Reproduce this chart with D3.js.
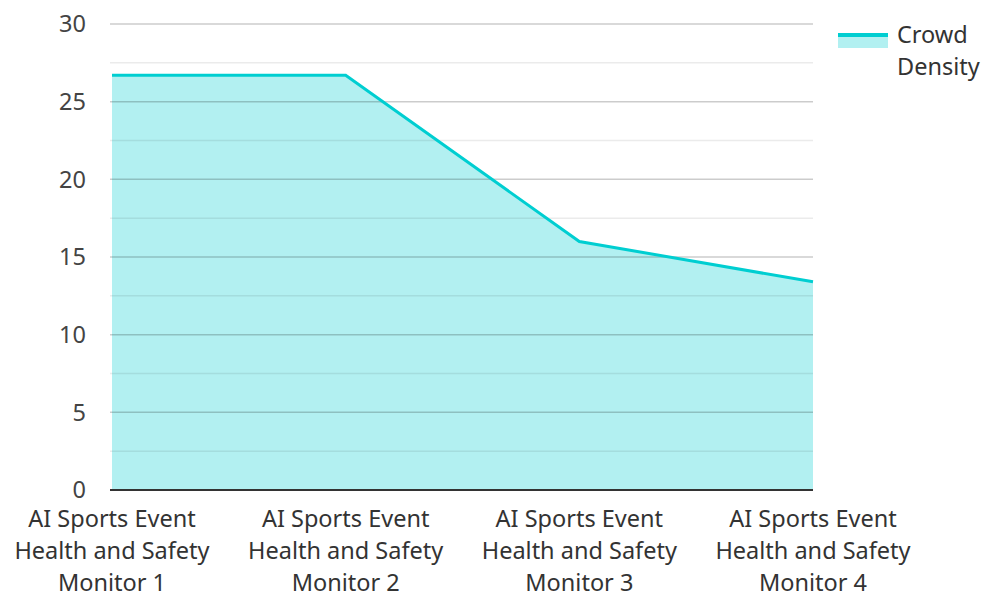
<!DOCTYPE html>
<html>
<head>
<meta charset="utf-8">
<script src="https://cdn.jsdelivr.net/npm/d3@7"></script>
<style>
  body { margin: 0; background: #fff; }
  svg { display: block; font-family: "Noto Sans", sans-serif; }
</style>
</head>
<body>
<svg id="chart" width="987" height="594"></svg>
<script>
// chart data
const categories = [
  "AI Sports Event Health and Safety Monitor 1",
  "AI Sports Event Health and Safety Monitor 2",
  "AI Sports Event Health and Safety Monitor 3",
  "AI Sports Event Health and Safety Monitor 4"
];
const labelLines = [
  ["AI Sports Event", "Health and Safety", "Monitor 1"],
  ["AI Sports Event", "Health and Safety", "Monitor 2"],
  ["AI Sports Event", "Health and Safety", "Monitor 3"],
  ["AI Sports Event", "Health and Safety", "Monitor 4"]
];
const density = [26.7, 26.7, 16.0, 13.4];
const seriesName = ["Crowd", "Density"];
const yTicks = [0, 5, 10, 15, 20, 25, 30];
const yMinorTicks = [2.5, 7.5, 12.5, 17.5, 22.5, 27.5];

const svg = d3.select("#chart");
const margin = { top: 24, right: 174, bottom: 104, left: 110 };
const width = 987, height = 594;
const color = "#00CED1";
const fontSize = 23.5;

const x = d3.scalePoint()
  .domain(categories)
  .range([margin.left + 2, width - margin.right]);

const y = d3.scaleLinear()
  .domain([0, 30])
  .range([height - margin.bottom, margin.top]);

const data = categories.map((c, i) => ({ cat: c, value: density[i] }));

// area first, grid lines show through
svg.append("path")
  .datum(data)
  .attr("fill", color)
  .attr("fill-opacity", 0.3)
  .attr("d", d3.area()
    .x(d => x(d.cat))
    .y0(y(0))
    .y1(d => y(d.value)));

// minor grid
svg.append("g")
  .selectAll("line")
  .data(yMinorTicks)
  .enter().append("line")
  .attr("x1", margin.left)
  .attr("x2", width - margin.right)
  .attr("y1", d => y(d))
  .attr("y2", d => y(d))
  .attr("stroke", "#000")
  .attr("stroke-opacity", 0.08)
  .attr("stroke-width", 1.5);

// major grid
svg.append("g")
  .selectAll("line")
  .data(yTicks.filter(d => d > 0))
  .enter().append("line")
  .attr("x1", margin.left)
  .attr("x2", width - margin.right)
  .attr("y1", d => y(d))
  .attr("y2", d => y(d))
  .attr("stroke", "#000")
  .attr("stroke-opacity", 0.2)
  .attr("stroke-width", 1.5);

// line
svg.append("path")
  .datum(data)
  .attr("fill", "none")
  .attr("stroke", color)
  .attr("stroke-width", 3)
  .attr("d", d3.line()
    .x(d => x(d.cat))
    .y(d => y(d.value)));

// baseline
svg.append("line")
  .attr("x1", margin.left)
  .attr("x2", width - margin.right)
  .attr("y1", y(0))
  .attr("y2", y(0))
  .attr("stroke", "#333")
  .attr("stroke-width", 2);

// y labels
svg.append("g")
  .selectAll("text")
  .data(yTicks)
  .enter().append("text")
  .attr("x", 86)
  .attr("y", d => y(d))
  .attr("dy", "0.35em")
  .attr("text-anchor", "end")
  .attr("font-size", fontSize)
  .attr("fill", "#444")
  .text(d => d);

// x labels
const xl = svg.append("g")
  .selectAll("text")
  .data(categories)
  .enter().append("text")
  .attr("text-anchor", "middle")
  .attr("font-size", fontSize)
  .attr("fill", "#333");
xl.selectAll("tspan")
  .data((d, i) => labelLines[i].map(t => ({ t, c: d })))
  .enter().append("tspan")
  .attr("x", d => x(d.c))
  .attr("y", (d, j) => 527 + j * 32)
  .text(d => d.t);

// legend
const lg = svg.append("g");
lg.append("rect")
  .attr("x", 838).attr("y", 33)
  .attr("width", 50).attr("height", 15)
  .attr("fill", color).attr("fill-opacity", 0.3);
lg.append("line")
  .attr("x1", 838).attr("x2", 888)
  .attr("y1", 35).attr("y2", 35)
  .attr("stroke", color).attr("stroke-width", 4);
lg.append("text")
  .attr("font-size", fontSize)
  .attr("fill", "#333")
  .selectAll("tspan")
  .data(seriesName)
  .enter().append("tspan")
  .attr("x", 897)
  .attr("y", (d, i) => 43 + i * 32)
  .text(d => d);
</script>
</body>
</html>
